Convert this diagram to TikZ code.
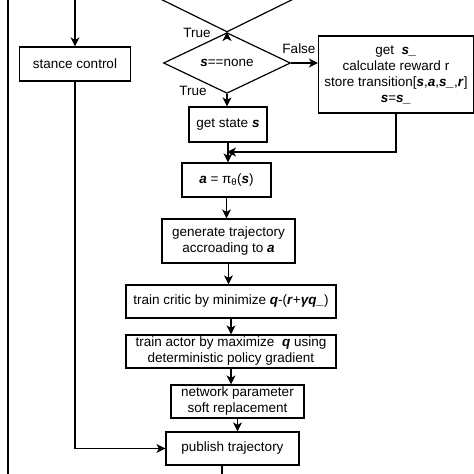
\documentclass[tikz,border=0pt]{standalone}
\usepackage{fontspec}
\setmainfont{Liberation Sans}
\usetikzlibrary{positioning, arrows.meta, shapes.geometric}

\newcommand{\bivar}[1]{\textbf{\textit{#1}}}

\tikzset{
  flowbox/.style={draw, line width=1.2pt, inner sep=0pt, align=center, font=\fontsize{13.5}{16}\selectfont},
  decision/.style={draw, diamond, line width=1.2pt, inner sep=0pt, align=center, font=\fontsize{13.5}{16}\selectfont},
  flowlabel/.style={font=\fontsize{13.5}{16}\selectfont},
  flowline/.style={line width=1.2pt},
  flowarrow/.style={line width=1.2pt, -{Stealth[length=9pt, width=9pt, inset=2.5pt]}}
}

\begin{document}
\begin{tikzpicture}[x=1pt, y=-1pt]

% Fix the frame
\useasboundingbox (0,0) rectangle (474,474);
\clip (0,0) rectangle (474,474);

% Draw the decisions
\node[decision, minimum width=170, minimum height=84] (check) at (227,-10) {};
\node[decision, minimum width=127, minimum height=44] (none) at (227,63) {\bivar{s}==none};

% Draw the boxes
\node[flowbox, minimum width=111, minimum height=34] (stance) at (75,64) {stance control};
\node[flowbox, minimum width=155, minimum height=77] (store) at (396,74.5) {get \ \bivar{s\_}\\calculate reward r\\store transition[\bivar{s},\bivar{a},\bivar{s\_},\bivar{r}]\\\bivar{s}=\bivar{s\_}};
\node[flowbox, minimum width=78, minimum height=35] (state) at (228,124.5) {get state \bivar{s}};
\node[flowbox, minimum width=89, minimum height=34] (policy) at (226.5,180) {\bivar{a} = π\textsubscript{θ}(\bivar{s})};
\node[flowbox, minimum width=133, minimum height=44] (generate) at (228.5,241) {generate trajectory\\accroading to \bivar{a}};
\node[flowbox, minimum width=210, minimum height=33] (critic) at (231,301.5) {train critic by minimize \bivar{q}-(\bivar{r}+\bivar{γq\_})};
\node[flowbox, minimum width=210, minimum height=33] (actor) at (231,351.5) {train actor by maximize \ \bivar{q} using\\deterministic policy gradient};
\node[flowbox, minimum width=133, minimum height=33] (network) at (237.5,401.5) {network parameter\\soft replacement};
\node[flowbox, minimum width=133, minimum height=33] (publish) at (232.5,448.5) {publish trajectory};

% Add the branch labels
\node[flowlabel] (true1) at (197,33) {True};
\node[flowlabel] (false) at (299,49) {False};
\node[flowlabel] (true2) at (193,91) {True};

% Add the free ends
\coordinate (outertop) at (8,0);
\coordinate (outerbot) at (8,474);
\coordinate (stancetop) at (75,0);
\coordinate (join) at (227,152);
\coordinate (exit) at (222,474);

% Draw the connectors
\draw[flowline] (outertop) -- (outerbot);
\draw[flowarrow] (stancetop) -- (stance.north);
\draw[flowarrow] (stance.south) |- (publish.west);
\draw[flowarrow] (check.south) -- (none.north);
\draw[flowarrow] (none.east) -- (store.west |- none.east);
\draw[flowarrow] (none.south) -- (none.south |- state.north);
\draw[flowarrow] (store.south) |- (join);
\draw[flowarrow] (state.south) -- (state.south |- policy.north);
\draw[flowarrow] (policy.south) -- (policy.south |- generate.north);
\draw[flowarrow] (generate.south) -- (generate.south |- critic.north);
\draw[flowarrow] (critic.south) -- (critic.south |- actor.north);
\draw[flowarrow] (actor.south) -- (actor.south |- network.north);
\draw[flowarrow] (network.south) -- (network.south |- publish.north);
\draw[flowline] (exit |- publish.south) -- (exit);

\end{tikzpicture}
\end{document}
